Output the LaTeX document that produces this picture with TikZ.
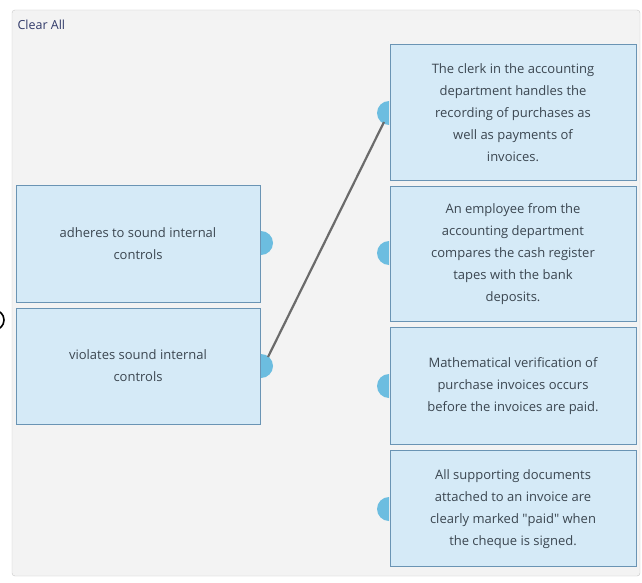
\documentclass[tikz,border=0pt]{standalone}
\usepackage{fontspec}
\setmainfont{Open Sans}
\definecolor{panel}{HTML}{F3F3F3}
\definecolor{pborder}{HTML}{C8C8C8}
\definecolor{boxfill}{HTML}{D5EAF7}
\definecolor{boxdraw}{HTML}{6A94B4}
\definecolor{knob}{HTML}{6CBDE0}
\definecolor{txt}{HTML}{3B4650}
\begin{document}
\begin{tikzpicture}[x=1pt,y=-1pt,
  box/.style={draw=boxdraw,fill=boxfill,line width=0.7pt},
  lbl/.style={text=txt,font=\fontsize{13}{22}\selectfont,align=center},
]
\useasboundingbox (0,0) rectangle (642,583);
\fill[white] (0,0) rectangle (642,583);
\draw[pborder,fill=panel,rounded corners=3pt] (12,10) rectangle (640,576);
\node[anchor=west,text=txt!85!blue,font=\fontsize{12.5}{14}\selectfont] (clear) at (14,25) {Clear All};
\begin{scope}\clip (0,290) rectangle (8,350);
\draw[line width=1.6pt] (-6,320) circle[radius=10];
\end{scope}
% left boxes
\draw[box] (16,185) rectangle (260,302);
\node[lbl] (l1) at (138,244) {adheres to sound internal\\controls};
\draw[box] (16,308) rectangle (260,424);
\node[lbl] (l2) at (138,366) {violates sound internal\\controls};
\foreach \y in {243,366}{\begin{scope}\clip (261,\y-15) rectangle (280,\y+15);
\fill[knob] (261,\y) circle[radius=12];\end{scope}}
\coordinate (k2) at (268,357);
% right boxes
\draw[box] (390,44) rectangle (636,180);
\node[lbl] (r1) at (513,113) {The clerk in the accounting\\department handles the\\recording of purchases as\\well as payments of\\invoices.};
\draw[box] (390,186) rectangle (636,321);
\node[lbl] (r2) at (513,254) {An employee from the\\accounting department\\compares the cash register\\tapes with the bank\\deposits.};
\draw[box] (390,327) rectangle (636,444);
\node[lbl] (r3) at (513,386) {Mathematical verification of\\purchase invoices occurs\\before the invoices are paid.};
\draw[box] (390,450) rectangle (636,566);
\node[lbl] (r4) at (513,509) {All supporting documents\\attached to an invoice are\\clearly marked \textquotedbl paid\textquotedbl{} when\\the cheque is signed.};
\foreach \y in {113,253,386,509}{\begin{scope}\clip (370,\y-15) rectangle (389,\y+15);
\fill[knob] (389,\y) circle[radius=12];\end{scope}}
\coordinate (q1) at (384,122);
\draw[line width=2.2pt,color=black!58] (k2) -- (q1);
\end{tikzpicture}
\end{document}
